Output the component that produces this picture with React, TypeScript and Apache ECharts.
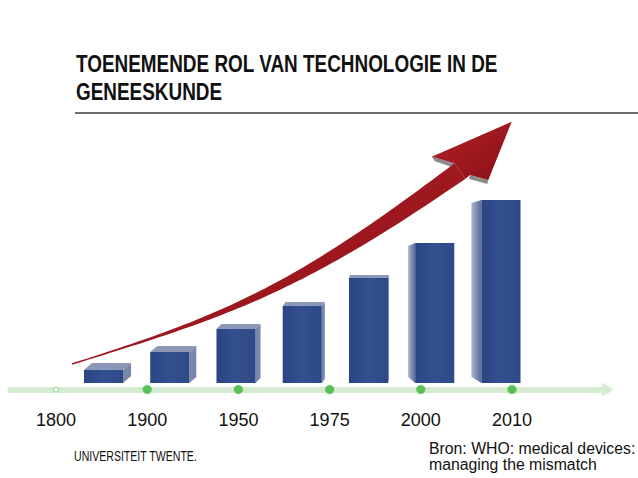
import React, { useEffect, useRef } from "react";
import * as echarts from "echarts";

// ---- data ----
const barStages = ["I", "II", "III", "IV", "V", "VI", "VII"];
const barValues = [13, 31, 54, 77, 105, 140, 183];
const yearLabels = ["1800", "1900", "1950", "1975", "2000", "2010"];
const titleLines = ["TOENEMENDE ROL VAN TECHNOLOGIE IN DE", "GENEESKUNDE"];
const sourceLines = ["Bron: WHO: medical devices:", "managing the mismatch"];
const logoText = "UNIVERSITEIT TWENTE.";

// ---- styles ----
const SIDE_DX = [8, 7, 5, 3, 1, -7, -10];
const TOP_DY = [-7, -6, -5, -4, -3, 3, 3];

function bez(t: number, p: number[][]) {
  const u = 1 - t;
  const x = u * u * u * p[0][0] + 3 * u * u * t * p[1][0] + 3 * u * t * t * p[2][0] + t * t * t * p[3][0];
  const y = u * u * u * p[0][1] + 3 * u * u * t * p[1][1] + 3 * u * t * t * p[2][1] + t * t * t * p[3][1];
  const dx = 3 * u * u * (p[1][0] - p[0][0]) + 6 * u * t * (p[2][0] - p[1][0]) + 3 * t * t * (p[3][0] - p[2][0]);
  const dy = 3 * u * u * (p[1][1] - p[0][1]) + 6 * u * t * (p[2][1] - p[1][1]) + 3 * t * t * (p[3][1] - p[2][1]);
  const l = Math.hypot(dx, dy);
  return { x, y, dx: dx / l, dy: dy / l };
}

function buildArrow() {
  const P = [[72, 364], [232, 314.4], [300, 286.2], [460, 171]];
  const N = 60;
  const up: number[][] = [];
  const lo: number[][] = [];
  for (let i = 0; i <= N; i++) {
    const t = i / N;
    const b = bez(t, P);
    const nx = -b.dy, ny = b.dx;
    const hw = 0.7 + 8.8 * Math.pow(t, 1.5);
    up.push([b.x - nx * hw, b.y - ny * hw]);
    lo.push([b.x + nx * hw, b.y + ny * hw]);
  }
  const shaft = up.concat(lo.slice().reverse());
  const upEnd = up[N];
  const loEnd = lo[N];
  const leftBarb = [431.7, 156.7];
  const tip = [511.7, 121.7];
  const rightBarb = [488.3, 180];
  const neckL = [470, 175];
  const head = [upEnd, leftBarb, tip, rightBarb, neckL, loEnd];
  const bevL = [leftBarb, upEnd, [upEnd[0] + 1, upEnd[1] + 5], [leftBarb[0] + 3, leftBarb[1] + 4.5]];
  const bevR = [neckL, rightBarb, [rightBarb[0] - 1, rightBarb[1] + 4], [neckL[0] - 1, neckL[1] + 4]];
  return { shaft, head, bevL, bevR };
}

export default function App() {
  const ref = useRef<HTMLDivElement>(null);
  useEffect(() => {
    if (!ref.current) return;
    const chart = echarts.init(ref.current, null, { renderer: "svg" });
    const arrow = buildArrow();
    const red = new echarts.graphic.LinearGradient(0, 0, 1, 1, [
      { offset: 0, color: "#b3222a" },
      { offset: 1, color: "#8a0f15" },
    ]);
    const option: any = {
      animation: false,
      backgroundColor: "#ffffff",
      grid: [
        { left: 70.4, right: 103.9, top: 183, bottom: 95, outerBoundsMode: "none", containLabel: false },
        { left: 10.4, right: 30.2, top: 300, bottom: 88.5, outerBoundsMode: "none", containLabel: false },
      ],
      xAxis: [
        { type: "category", gridIndex: 0, data: barStages, show: false },
        {
          type: "value",
          gridIndex: 1,
          min: -0.5,
          max: 6.05,
          interval: 0.5,
          position: "bottom",
          axisLine: {
            show: true,
            onZero: false,
            symbol: ["none", "triangle"],
            symbolSize: [14, 12],
            lineStyle: { color: "#d5ebd1", width: 6 },
          },
          axisTick: { show: false },
          splitLine: { show: false },
          axisLabel: {
            margin: 21,
            showMinLabel: false,
            showMaxLabel: false,
            fontFamily: "'Liberation Sans', Arial, sans-serif",
            fontSize: 18,
            color: "#111111",
            formatter: (v: number) =>
              Number.isInteger(v) && v >= 0 && v < yearLabels.length ? yearLabels[v] : "",
          },
        },
      ],
      yAxis: [
        { type: "value", gridIndex: 0, min: 0, max: 200, show: false },
        { type: "value", gridIndex: 1, min: 0, max: 1, show: false },
      ],
      series: [
        {
          type: "custom",
          xAxisIndex: 0,
          yAxisIndex: 0,
          data: barValues.map((v, i) => [i, v]),
          encode: { x: 0, y: 1 },
          renderItem: (params: any, api: any) => {
            const i = params.dataIndex;
            const top = api.coord([api.value(0), api.value(1)]);
            const base = api.coord([api.value(0), 0]);
            const band = api.size([1, 0])[0];
            const w = band * 0.59;
            const xL = top[0] - w / 2;
            const xR = top[0] + w / 2;
            const yT = top[1];
            const yB = base[1];
            const dx = SIDE_DX[i];
            const dy = TOP_DY[i];
            const children: any[] = [];
            if (dx > 0) {
              children.push({
                type: "polygon",
                shape: { points: [[xR, yT], [xR + dx, yT + dy], [xR + dx, yB + dy], [xR, yB]] },
                style: { fill: "#7a86ab" },
              });
              children.push({
                type: "polygon",
                shape: { points: [[xL, yT], [xR, yT], [xR + dx, yT + dy], [xL + dx, yT + dy]] },
                style: { fill: "#8d97b7" },
              });
            } else {
              children.push({
                type: "polygon",
                shape: { points: [[xL + dx, yT + dy], [xL, yT], [xL, yB], [xL + dx, yB - 6]] },
                style: {
                  fill: new echarts.graphic.LinearGradient(0, 0, 1, 0, [
                    { offset: 0, color: "#aab2cc" },
                    { offset: 1, color: "#56679a" },
                  ]),
                },
              });
            }
            children.push({
              type: "rect",
              shape: { x: xL, y: yT, width: w, height: yB - yT },
              style: {
                fill: new echarts.graphic.LinearGradient(0, 0, 1, 0, [
                  { offset: 0, color: "#2b4584" },
                  { offset: 0.5, color: "#34508f" },
                  { offset: 1, color: "#2e4987" },
                ]),
              },
            });
            return { type: "group", children };
          },
        },
        {
          type: "scatter",
          xAxisIndex: 1,
          yAxisIndex: 1,
          data: yearLabels.map((_, i) => [i, 0]),
          symbolSize: (_: any, p: any) => (p.dataIndex === 0 ? 5 : 8.5),
          itemStyle: {
            color: (p: any) => (p.dataIndex === 0 ? "#ffffff" : "#38b538"),
            borderColor: "#5cbf5c",
            borderWidth: 0.8,
          },
          silent: true,
        },
      ],
      graphic: [
        {
          type: "text",
          x: 76,
          y: 50,
          scaleX: 0.823,
          style: {
            text: titleLines.join("\n"),
            fontFamily: "'Liberation Sans', Arial, sans-serif",
            fontWeight: "bold",
            fontSize: 23,
            lineHeight: 28,
            fill: "#111111",
          },
        },
        {
          type: "line",
          shape: { x1: 75, y1: 113, x2: 638, y2: 113 },
          style: { stroke: "#6e6e6e", lineWidth: 2 },
        },
        { type: "polygon", shape: { points: arrow.bevL }, style: { fill: "#8c8c8c" } },
        { type: "polygon", shape: { points: arrow.bevR }, style: { fill: "#8c8c8c" } },
        { type: "polygon", shape: { points: arrow.shaft }, style: { fill: red } },
        { type: "polygon", shape: { points: arrow.head }, style: { fill: red } },
        {
          type: "text",
          x: 74,
          y: 449,
          scaleX: 0.755,
          style: {
            text: logoText,
            fontFamily: "'Liberation Sans', Arial, sans-serif",
            fontSize: 14,
            fill: "#111111",
          },
        },
        {
          type: "text",
          x: 429,
          y: 440,
          style: {
            text: sourceLines.join("\n"),
            fontFamily: "'Liberation Sans', Arial, sans-serif",
            fontSize: 15.8,
            lineHeight: 16.5,
            fill: "#111111",
          },
        },
      ],
    };
    chart.setOption(option);
    return () => chart.dispose();
  }, []);
  return (
    <div
      ref={ref}
      style={{ position: "fixed", left: 0, top: 0, width: 638, height: 478 }}
    />
  );
}
